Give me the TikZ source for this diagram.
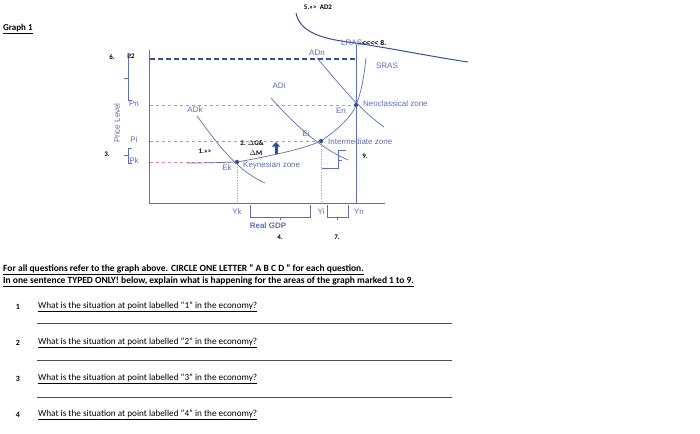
\documentclass[tikz,border=0pt]{standalone}
\usepackage{fontspec}
\setmainfont{Carlito}
\newfontfamily\lab{Liberation Sans}
\usetikzlibrary{arrows.meta}
\definecolor{gb}{RGB}{95,110,175}
\definecolor{db}{RGB}{50,80,150}
\definecolor{pk}{RGB}{220,130,160}
\tikzset{x=1pt,y=-1pt,
 bl/.style={text=gb,font=\lab\fontsize{8}{9}\selectfont,inner sep=1pt},
 bk/.style={font=\bfseries\fontsize{7}{8}\selectfont,inner sep=1pt},
 crv/.style={draw=gb,line width=0.7pt},
 guide/.style={draw=pk,dashed,line width=0.6pt},
 dot/.style={circle,fill=db,inner sep=1.5pt},
 q/.style={font=\fontsize{9.2}{10}\selectfont,anchor=west,inner sep=0pt},
 ans/.style={draw=black!70,line width=0.5pt}}
\begin{document}
\begin{tikzpicture}
\useasboundingbox (0,0) rectangle (700,433);
\fill[white] (0,0) rectangle (700,433);
\node[font=\bfseries\fontsize{9}{10}\selectfont,anchor=west,inner sep=0pt] (g1) at (3,29) {\underline{Graph 1}};
% axes
\coordinate (o) at (149,203);
\coordinate (yt) at (149,50);
\coordinate (xt) at (385,203);
\draw[gb,line width=0.8pt] (yt) -- (o) -- (xt);
\coordinate (lt) at (356,45); \coordinate (lb) at (356,203);
\draw[gb,line width=0.8pt] (lt) -- (lb);
% points
\node[dot] (ek) at (237,162) {};
\node[dot] (ei) at (321,141) {};
\node[dot] (en) at (356,105) {};
% guides
\coordinate (pn) at (150,105); \coordinate (pi) at (150,141); \coordinate (pkk) at (150,162);
\coordinate (yk) at (237,203); \coordinate (yi) at (321,203);
\draw[guide] (pn) -- (en); \draw[guide] (pi) -- (ei); \draw[guide] (pkk) -- (ek);
\draw[guide,dotted] (ek) -- (yk); \draw[guide,dotted] (ei) -- (yi);
\coordinate (p2a) at (150,59); \coordinate (p2b) at (356,59);
\draw[db,line width=1.1pt,dash pattern=on 5pt off 3pt] (p2a) -- (p2b);
% SRAS
\coordinate (s0) at (187,163); \coordinate (s1) at (366,58);
\draw[crv] (s0) .. controls (215,163) and (230,162) .. (ek) .. controls (265,157) and (300,150) .. (ei) .. controls (340,128) and (352,115) .. (en) .. controls (362,90) and (364,75) .. (s1);
% AD curves
\draw[crv] (197,116) .. controls (215,140) and (235,170) .. (265,183);
\draw[crv] (271,98) .. controls (295,125) and (320,148) .. (348,160);
\draw[crv] (317,58) .. controls (340,85) and (360,110) .. (384,127);
\draw[db,line width=1pt] (296,13) .. controls (300,35) and (330,40) .. (356,43) .. controls (400,50) and (440,58) .. (468,62);
% arrow
\draw[-{Triangle[width=8pt,length=4.5pt]},db,line width=3pt] (276,154) -- (276,142);
% braces
\draw[gb,line width=0.5pt] (132,57) -- (128,57) -- (128,100) -- (132,100) (128,78) -- (124,78);
\draw[gb,line width=0.5pt] (132,148) -- (128,148) -- (128,163) -- (132,163) (128,155) -- (124,155);
\draw[gb,line width=0.5pt] (250,205) -- (250,217) -- (310,217) -- (310,205) (280,217) -- (280,220);
\draw[gb,line width=0.5pt] (327,205) -- (327,217) -- (348,217) -- (348,205) (337,217) -- (337,220);
\draw[gb,line width=0.5pt] (322,168) -- (338,168) -- (338,150) -- (346,150) (338,160) -- (342,160);
% labels
\node[bk] (l5) at (318,7) {5.>>> \ AD2};
\node[bl,anchor=west] (lras) at (340,43) {LRAS\textcolor{black}{\bfseries\fontsize{7}{8}\selectfont<<<< 8.}};
\node[bl] (adn) at (317,53) {ADn};
\node[bl] (sras) at (387,66) {SRAS};
\node[bl] (adi) at (279,86) {ADi};
\node[bl,anchor=west] (neo) at (362,104) {Neoclassical zone};
\node[bl] (enl) at (341,111) {En};
\node[bl] (adk) at (195,110) {ADk};
\node[bl] (eil) at (306,134) {Ei};
\node[bl,anchor=west] (inter) at (327,142) {Intermediate zone};
\node[bk] (n9) at (365,156) {9.};
\node[bk] (n2) at (252,143) {2. $\Delta$G\&};
\node[bk] (n2b) at (256,153) {$\Delta$M};
\node[bk] (n1) at (205,151) {1.>>>};
\node[bl] (ekl) at (227,168) {Ek};
\node[bl,anchor=west] (key) at (242,165) {Keynesian zone};
\node[bl] (ykl) at (237,212) {Yk};
\node[bl] (yil) at (321,212) {Yi};
\node[bl] (ynl) at (359,212) {Yn};
\node[bl,font=\lab\bfseries\fontsize{8}{9}\selectfont] (rg) at (268,226) {Real GDP};
\node[bk] (n4) at (280,237) {4.};
\node[bk] (n7) at (337,237) {7.};
\node[bk] (n6) at (112,57) {6.};
\node[bk] (p2) at (131,56) {P2};
\node[bk] (n3) at (107,154) {3.};
\node[bl,rotate=90] (plv) at (117,123) {Price Level};
\node[bl] (pnl) at (134,104) {Pn};
\node[bl] (pil) at (134,140) {Pi};
\node[bl] (pkl) at (134,161) {Pk};
% text
\node[font=\bfseries\fontsize{9.5}{10}\selectfont,anchor=west,inner sep=0pt] (t1) at (3,270) {\underline{For all questions refer to the graph above. CIRCLE ONE LETTER " A B C D " for each question.}};
\node[font=\bfseries\fontsize{9.5}{10}\selectfont,anchor=west,inner sep=0pt] (t2) at (3,282) {\underline{In one sentence TYPED ONLY! below, explain what is happening for the areas of the graph marked 1 to 9.}};
\foreach \i/\y in {1/307,2/343,3/379,4/415}{
 \node[font=\bfseries\fontsize{8}{9}\selectfont,inner sep=0pt] (qn\i) at (18,\y) {\i};
 \node[q] (qt\i) at (38,\y) {\underline{What is the situation at point labelled "\i" in the economy?}};
}
\foreach \y in {323,360,397}{\draw[ans] (37,\y) -- (452,\y);}
\end{tikzpicture}
\end{document}
